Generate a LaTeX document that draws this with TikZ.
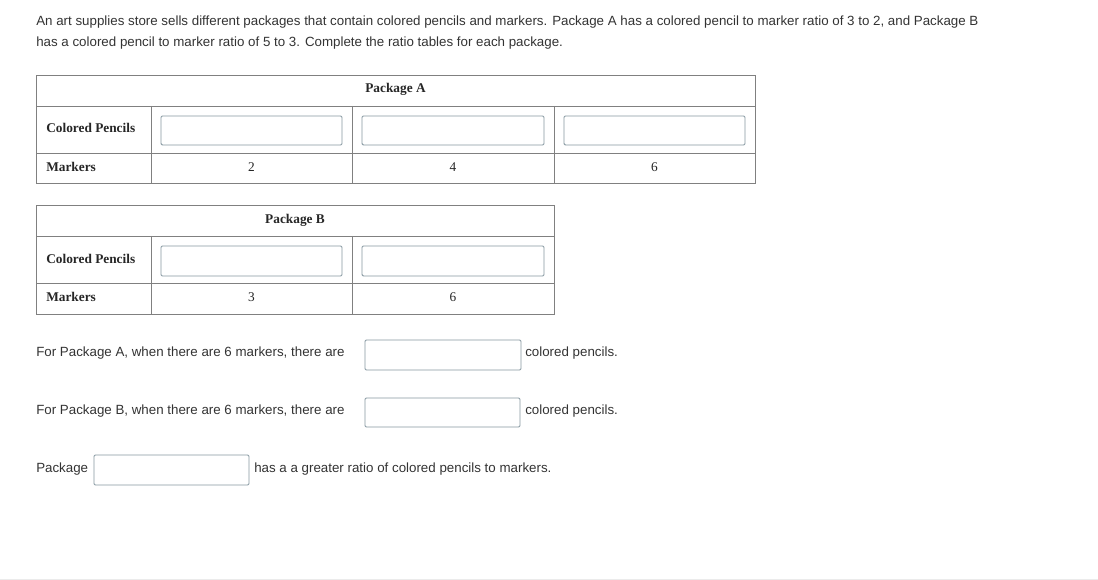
\documentclass[tikz,border=0pt]{standalone}
\usepackage{fontspec}
\setmainfont{Liberation Serif}
\setsansfont{Liberation Sans}
\begin{document}
\begin{tikzpicture}[x=0.75pt,y=-0.75pt,
  txt/.style={anchor=west,inner sep=0pt,font=\sffamily\fontsize{10}{12}\selectfont,text=black!80},
  cell/.style={draw=black!50,line width=0.6pt},
  inbox/.style={draw=cyan!30!black!60,line width=0.7pt,rounded corners=1pt},
  tl/.style={inner sep=0pt,font=\fontsize{10}{12}\selectfont,text=black!85},
  tb/.style={tl,font=\bfseries\fontsize{10}{12}\selectfont,anchor=west}]
\useasboundingbox (0,0) rectangle (1098,580);
\node[txt] (t1) at (36,22) {An art supplies store sells different packages that contain colored pencils and markers. Package A has a colored pencil to marker ratio of 3 to 2, and Package B};
\node[txt] (t2) at (36,43) {has a colored pencil to marker ratio of 5 to 3. Complete the ratio tables for each package.};
% Table A
\draw[cell] (36,75) rectangle (755,183);
\draw[cell] (36,106) -- (755,106) (36,153) -- (755,153);
\foreach \x in {151,352,554} \draw[cell] (\x,106) -- (\x,183);
\node[tl,font=\bfseries\fontsize{10}{12}\selectfont] (ha) at (395.5,89) {Package A};
\node[tb] (cpa) at (46,128) {Colored Pencils};
\node[tb] (ma) at (46,167) {Markers};
\foreach \a/\b in {161/342,362/544,564/745} \draw[inbox] (\a,116) rectangle (\b,145);
\node[tl] (a2) at (251.5,167) {2};
\node[tl] (a4) at (453,167) {4};
\node[tl] (a6) at (654.5,167) {6};
% Table B
\draw[cell] (36,205) rectangle (554,314);
\draw[cell] (36,236) -- (554,236) (36,283) -- (554,283);
\foreach \x in {151,352} \draw[cell] (\x,236) -- (\x,314);
\node[tl,font=\bfseries\fontsize{10}{12}\selectfont] (hb) at (295,220) {Package B};
\node[tb] (cpb) at (46,259) {Colored Pencils};
\node[tb] (mb) at (46,297) {Markers};
\foreach \a/\b in {161/342,362/544} \draw[inbox] (\a,246) rectangle (\b,276);
\node[tl] (b3) at (251.5,297) {3};
\node[tl] (b6) at (453,297) {6};
% questions
\node[txt] (q1) at (36,353) {For Package A, when there are 6 markers, there are};
\draw[inbox] (365,340) rectangle (521,370);
\node[txt] (q1b) at (525,353) {colored pencils.};
\node[txt] (q2) at (36,411) {For Package B, when there are 6 markers, there are};
\draw[inbox] (365,398) rectangle (520,427);
\node[txt] (q2b) at (525,411) {colored pencils.};
\node[txt] (q3) at (36,469) {Package};
\draw[inbox] (94,455) rectangle (249,485);
\node[txt] (q3b) at (254,469) {has a a greater ratio of colored pencils to markers.};
\draw[black!8] (0,579) -- (1098,579);
\end{tikzpicture}
\end{document}
